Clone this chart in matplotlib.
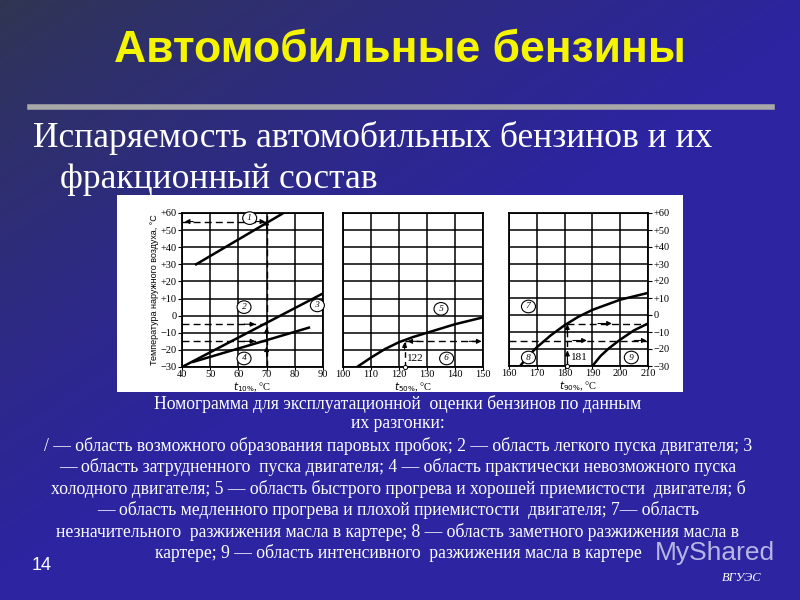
import numpy as np
import matplotlib.pyplot as plt
from matplotlib.patches import Rectangle

W, H = 800, 600

# --- nomogram data ---
temp_ticks = [60, 50, 40, 30, 20, 10, 0, -10, -20, -30]
temp_labels = ['+60', '+50', '+40', '+30', '+20', '+10', '0', '−10', '−20', '−30']
t10_ticks = [40, 50, 60, 70, 80, 90]
t50_ticks = [100, 110, 120, 130, 140, 150]
t90_ticks = [160, 170, 180, 190, 200, 210]

# t10% panel: straight boundaries
line1_x, line1_y = [45, 76], [30, 60]
line3_x, line3_y = [40, 90], [-30, 13]
line4_x, line4_y = [44, 85], [-27, -7]

# t50% panel
curve56_x = [105, 110, 115, 120, 125, 130, 140, 150]
curve56_y = [-30, -24.5, -19.5, -15.5, -12.5, -10, -5, -1]

# t90% panel
curve78_x = [164, 167, 170, 175, 180, 185, 190, 200, 210]
curve78_y = [-30, -24, -19, -12, -6, -1, 3, 9, 13]
curve89_x = [190, 193, 196, 200, 205, 210]
curve89_y = [-30, -24, -19.5, -14.5, -9, -5]

# region labels (number, t, temperature)
regions10 = [('1', 64, 57), ('2', 62, 5), ('3', 88, 6), ('4', 62, -25)]
regions50 = [('5', 135, 4), ('6', 137, -25)]
regions90 = [('7', 167, 5), ('8', 167, -25), ('9', 204, -25)]

# worked examples (dashed guide lines)
ex10_t = 70
ex10_levels = [55, -5, -15]
ex50_t = 122
ex50_level = -15
ex90_t = 181
ex90_levels = [-5, -15]

caption = [
    "Номограмма для эксплуатационной  оценки бензинов по данным",
    "их разгонки:",
    "/ — область возможного образования паровых пробок; 2 — область легкого пуска двигателя; 3",
    "— область затрудненного  пуска двигателя; 4 — область практически невозможного пуска",
    "холодного двигателя; 5 — область быстрого прогрева и хорошей приемистости  двигателя; б",
    "— область медленного прогрева и плохой приемистости  двигателя; 7— область",
    "незначительного  разжижения масла в картере; 8 — область заметного разжижения масла в",
    "картере; 9 — область интенсивного  разжижения масла в картере",
]
caption_y = [404, 423, 446, 467, 489, 510, 532, 553]


def px_axes(fig, left, top, right, bottom):
    return fig.add_axes([left / W, 1 - bottom / H, (right - left) / W, (bottom - top) / H])


def arrow(ax, x0, y0, x1, y1):
    ax.annotate('', xy=(x1, y1), xytext=(x0, y0),
                arrowprops=dict(arrowstyle='-|>', color='black', lw=0.8,
                                mutation_scale=7, shrinkA=0, shrinkB=0))


def circled(ax, items):
    for num, x, y in items:
        ax.text(x, y, ' ' + num + ' ', fontsize=6.5, style='italic', family='Liberation Serif',
                ha='center', va='center',
                bbox=dict(boxstyle='ellipse,pad=0.05', fc='white', ec='black', lw=0.8))


def setup(ax, xticks, xlabel):
    ax.set_xlim(xticks[0], xticks[-1])
    ax.set_ylim(-30, 60)
    ax.set_xticks(xticks)
    ax.set_yticks(temp_ticks)
    ax.grid(True, color='black', lw=1.1)
    for s in ax.spines.values():
        s.set_linewidth(1.3)
    ax.tick_params(labelsize=7.5, length=3, width=0.8, pad=1, colors='black')
    ax.tick_params(axis='x', length=2, pad=0.5)
    for lab in ax.get_xticklabels() + ax.get_yticklabels():
        lab.set_family('Liberation Serif')
    ax.set_xlabel(xlabel, fontsize=7.5, family='Liberation Serif')
    ax.xaxis.set_label_coords(0.5, -0.085)
    ax.set_facecolor('white')


fig = plt.figure(figsize=(8, 6), dpi=100)

# gradient background
bg = fig.add_axes([0, 0, 1, 1])
gx, gy = np.meshgrid(np.linspace(0, 1, 200), np.linspace(0, 1, 150))
t = np.clip(0.95 * gx + 1.05 * gy, 0, 1)[..., None] ** 0.8
c0 = np.array([48, 54, 80]) / 255
c1 = np.array([44, 36, 160]) / 255
bg.imshow(c0 * (1 - t) + c1 * t, extent=[0, 1, 0, 1], aspect='auto', origin='upper')
bg.set_xlim(0, 1)
bg.set_ylim(0, 1)
bg.axis('off')

# white panel behind nomogram
bg.add_patch(Rectangle((117 / W, 1 - 392 / H), 566 / W, 197 / H, fc='white', ec='none'))

# title and rule
fig.text(400 / W, 1 - 50 / H, 'Автомобильные бензины', color='#f5f500', fontsize=32,
         fontweight='bold', family='Liberation Sans', ha='center', va='center')
bg.plot([30 / W, 772 / W], [1 - 107 / H] * 2, color='#a8a8a8', lw=4)

fig.text(33 / W, 1 - 138 / H, 'Испаряемость автомобильных бензинов и их', color='white',
         fontsize=25.5, family='Liberation Serif', ha='left', va='center')
fig.text(60 / W, 1 - 180 / H, 'фракционный состав', color='white',
         fontsize=25.5, family='Liberation Serif', ha='left', va='center')

# panel 1: t10%
ax1 = px_axes(fig, 182, 213, 323, 367)
setup(ax1, t10_ticks, r'$t_{10\%}$, °C')
ax1.set_yticklabels(temp_labels, family='Liberation Serif')
ax1.set_ylabel('Температура наружного воздуха, °С', fontsize=6.5,
               family='Liberation Sans', labelpad=1)
for xs, ys in [(line1_x, line1_y), (line3_x, line3_y), (line4_x, line4_y)]:
    ax1.plot(xs, ys, color='black', lw=1.8, zorder=3)
ax1.plot([ex10_t, ex10_t], [-30, 60], color='black', ls=(0, (5, 3)), lw=1, zorder=3)
for lv in ex10_levels:
    ax1.plot([40, ex10_t], [lv, lv], color='black', ls=(0, (5, 3)), lw=1, zorder=3)
arrow(ax1, 44, 55, 41, 55)
arrow(ax1, 66, 55, 69.5, 55)
arrow(ax1, 62, -5, 66, -5)
arrow(ax1, 62, -15, 66, -15)
arrow(ax1, ex10_t, -24, ex10_t, -18)
arrow(ax1, ex10_t, -13, ex10_t, -7)
arrow(ax1, ex10_t, 50, ex10_t, 56)
circled(ax1, regions10)

# panel 2: t50%
ax2 = px_axes(fig, 343, 213, 483, 367)
setup(ax2, t50_ticks, r'$t_{50\%}$, °C')
ax2.tick_params(axis='y', left=False, labelleft=False)
ax2.plot(curve56_x, curve56_y, color='black', lw=1.8, zorder=3)
ax2.plot([ex50_t, ex50_t], [-30, ex50_level], color='black', ls=(0, (4, 3)), lw=1, zorder=3)
ax2.plot([ex50_t, 150], [ex50_level, ex50_level], color='black', ls=(0, (5, 3)), lw=1, zorder=3)
arrow(ax2, ex50_t, -20, ex50_t, -15.5)
arrow(ax2, 127, ex50_level, 123, ex50_level)
arrow(ax2, 145, ex50_level, 149.5, ex50_level)
ax2.text(ex50_t + 0.8, -25, '122', fontsize=8, family='Liberation Serif', va='center')
ax2.plot([ex50_t], [-30], 'o', ms=3, mfc='white', mec='black', mew=0.7, clip_on=False, zorder=4)
circled(ax2, regions50)

# panel 3: t90%
ax3 = px_axes(fig, 509, 213, 648, 366)
setup(ax3, t90_ticks, r'$t_{90\%}$, °C')
ax3.yaxis.tick_right()
ax3.set_yticklabels(temp_labels, family='Liberation Serif')
ax3.plot(curve78_x, curve78_y, color='black', lw=1.8, zorder=3)
ax3.plot(curve89_x, curve89_y, color='black', lw=1.8, zorder=3)
ax3.plot([ex90_t, ex90_t], [-30, ex90_levels[0]], color='black', ls=(0, (4, 3)), lw=1, zorder=3)
ax3.plot([ex90_t, 210], [ex90_levels[0]] * 2, color='black', ls=(0, (5, 3)), lw=1, zorder=3)
ax3.plot([160, 210], [ex90_levels[1]] * 2, color='black', ls=(0, (5, 3)), lw=1, zorder=3)
arrow(ax3, ex90_t, -27, ex90_t, -21)
arrow(ax3, ex90_t, -11, ex90_t, -5.5)
arrow(ax3, 192, -5, 197, -5)
arrow(ax3, 183, -15, 188, -15)
arrow(ax3, 205, -15, 209.5, -15)
ax3.text(ex90_t + 1.2, -25, '181', fontsize=8, family='Liberation Serif', va='center')
ax3.plot([ex90_t], [-30], 'o', ms=3, mfc='white', mec='black', mew=0.7, clip_on=False, zorder=4)
circled(ax3, regions90)

# caption
for line, y in zip(caption, caption_y):
    fig.text(398 / W, 1 - y / H, line, color='white', fontsize=12.7,
             family='Liberation Serif', ha='center', va='center')

fig.text(42 / W, 1 - 565 / H, '14', color='white', fontsize=13,
         family='Liberation Sans', ha='center', va='center')
fig.text(655 / W, 1 - 553 / H, 'MyShared', color='#d0d0f0', fontsize=19, alpha=0.85,
         family='Liberation Sans', ha='left', va='center')
fig.text(742 / W, 1 - 578 / H, 'ВГУЭС', color='white', fontsize=9, style='italic',
         family='Liberation Serif', ha='center', va='center')

fig.savefig('out.png', dpi=100)
